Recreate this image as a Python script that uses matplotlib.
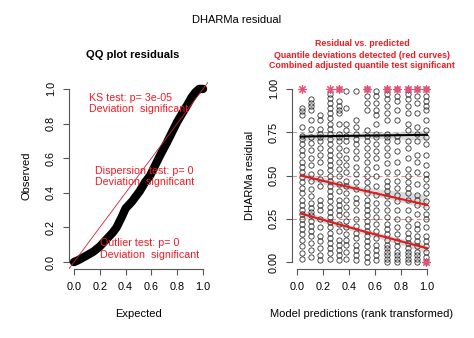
import numpy as np
import matplotlib
matplotlib.use("Agg")
import matplotlib.pyplot as plt

plt.rcParams["font.family"] = ["Liberation Sans", "DejaVu Sans"]

W, H = 474, 338

# ---------------------------------------------------------------------------
# QQ plot (expected vs observed uniform residual quantiles)
QQ_EXPECTED = [0.00, 0.03, 0.08, 0.15, 0.20, 0.25, 0.30, 0.33, 0.37, 0.40,
               0.45, 0.51, 0.55, 0.59, 0.63, 0.67, 0.72, 0.76, 0.80, 0.84,
               0.88, 0.91, 0.94, 0.97, 1.00]
QQ_OBSERVED = [0.00, 0.01, 0.03, 0.06, 0.09, 0.13, 0.17, 0.20, 0.26, 0.31,
               0.35, 0.41, 0.46, 0.50, 0.56, 0.62, 0.69, 0.75, 0.81, 0.86,
               0.91, 0.95, 0.98, 1.00, 1.00]

KS_TEXT = "KS test: p= 3e-05\nDeviation  significant"
DISP_TEXT = "Dispersion test: p= 0\nDeviation  significant"
OUTL_TEXT = "Outlier test: p= 0\nDeviation  significant"

# ---------------------------------------------------------------------------
# residual vs predicted (rank transformed predictions, tied ranks -> columns)
PRED_RANKS = [0.04, 0.11, 0.18, 0.25, 0.32, 0.38, 0.45, 0.54, 0.61, 0.69,
              0.77, 0.85, 0.92, 0.99]
RESID_COLS = [
    [0.02, 0.05, 0.09, 0.13, 0.16, 0.19, 0.22, 0.25, 0.28, 0.30, 0.33, 0.36,
     0.40, 0.43, 0.46, 0.49, 0.52, 0.55, 0.58, 0.62, 0.65, 0.68, 0.71, 0.73,
     0.78, 0.85, 0.87, 0.89],
    [0.03, 0.07, 0.11, 0.15, 0.18, 0.21, 0.24, 0.27, 0.29, 0.31, 0.34, 0.38,
     0.42, 0.47, 0.51, 0.56, 0.60, 0.65, 0.69, 0.72, 0.77, 0.82, 0.88, 0.90,
     0.92, 0.94],
    [0.01, 0.04, 0.08, 0.12, 0.15, 0.20, 0.25, 0.30, 0.33, 0.36, 0.44, 0.48,
     0.52, 0.58, 0.62, 0.66, 0.70, 0.72, 0.74, 0.77, 0.82, 0.85],
    [0.02, 0.05, 0.08, 0.11, 0.14, 0.17, 0.20, 0.23, 0.26, 0.29, 0.32, 0.35,
     0.38, 0.41, 0.44, 0.47, 0.50, 0.53, 0.56, 0.59, 0.62, 0.65, 0.68, 0.71,
     0.74, 0.77, 0.80, 0.83, 0.86, 0.89, 0.92, 0.95, 0.97],
    [0.01, 0.04, 0.07, 0.10, 0.13, 0.18, 0.22, 0.27, 0.30, 0.33, 0.36, 0.41,
     0.45, 0.50, 0.54, 0.58, 0.62, 0.66, 0.70, 0.72, 0.74, 0.80, 0.86, 0.88,
     0.90, 0.93, 1.00],
    [0.02, 0.06, 0.10, 0.13, 0.16, 0.20, 0.24, 0.28, 0.32, 0.36, 0.40, 0.44,
     0.47, 0.52, 0.56, 0.60, 0.65, 0.70, 0.73, 0.76, 0.80, 0.89, 0.99],
    [0.01, 0.04, 0.07, 0.10, 0.14, 0.17, 0.21, 0.25, 0.30, 0.34, 0.37, 0.42,
     0.46, 0.51, 0.55, 0.60, 0.64, 0.68, 0.71, 0.74, 0.78, 0.82, 0.99],
    [0.00, 0.03, 0.06, 0.09, 0.12, 0.15, 0.18, 0.21, 0.24, 0.27, 0.30, 0.33,
     0.36, 0.40, 0.43, 0.46, 0.50, 0.54, 0.58, 0.62, 0.66, 0.70, 0.73, 0.76,
     0.88, 0.92, 0.96, 1.00],
    [0.01, 0.04, 0.07, 0.10, 0.14, 0.18, 0.22, 0.26, 0.30, 0.34, 0.39, 0.44,
     0.50, 0.55, 0.60, 0.64, 0.68, 0.72, 0.74, 0.80, 0.85, 0.88, 0.92, 0.96,
     0.99],
    [0.00, 0.02, 0.04, 0.06, 0.08, 0.10, 0.13, 0.16, 0.19, 0.22, 0.26, 0.30,
     0.34, 0.38, 0.41, 0.44, 0.47, 0.52, 0.57, 0.62, 0.66, 0.70, 0.72, 0.74,
     0.82, 0.86, 0.90, 0.94, 0.97, 1.00],
    [0.00, 0.02, 0.04, 0.06, 0.09, 0.12, 0.16, 0.20, 0.25, 0.30, 0.35, 0.39,
     0.43, 0.47, 0.52, 0.58, 0.64, 0.70, 0.73, 0.82, 0.88, 0.93, 0.96, 1.00],
    [0.00, 0.02, 0.04, 0.06, 0.08, 0.11, 0.14, 0.17, 0.21, 0.25, 0.30, 0.36,
     0.40, 0.43, 0.46, 0.50, 0.54, 0.60, 0.66, 0.70, 0.76, 0.80, 0.86, 0.90,
     0.94, 0.97, 1.00],
    [0.00, 0.02, 0.04, 0.06, 0.09, 0.12, 0.15, 0.19, 0.22, 0.28, 0.33, 0.36,
     0.39, 0.45, 0.52, 0.58, 0.62, 0.70, 0.74, 0.78, 0.86, 0.92, 0.96, 1.00],
    [0.00, 0.03, 0.06, 0.09, 0.12, 0.15, 0.20, 0.25, 0.28, 0.32, 0.35, 0.40,
     0.44, 0.48, 0.51, 0.56, 0.62, 0.68, 0.72, 0.76, 0.82, 0.88, 0.90, 0.93,
     0.96, 1.00],
]
# simulation outliers (drawn as red asterisks)
OUTLIER_X = [0.04, 0.25, 0.32, 0.54, 0.69, 0.77, 0.85, 0.92, 0.99, 0.99]
OUTLIER_Y = [1.00, 1.00, 1.00, 1.00, 1.00, 1.00, 1.00, 1.00, 1.00, 0.00]

# quantile regression fits with confidence bands
QFIT_X = [0.03, 0.50, 1.00]
Q25_FIT = [0.28, 0.18, 0.08]
Q25_LO = [0.26, 0.165, 0.055]
Q25_HI = [0.30, 0.195, 0.10]
Q50_FIT = [0.50, 0.415, 0.33]
Q50_LO = [0.48, 0.40, 0.31]
Q50_HI = [0.52, 0.435, 0.39]
Q75_FIT = [0.725, 0.73, 0.735]
Q75_LO = [0.70, 0.715, 0.705]
Q75_HI = [0.745, 0.745, 0.76]

RIGHT_TITLE = ["Residual vs. predicted",
               "Quantile deviations detected (red curves)",
               "Combined adjusted quantile test significant"]

AXCOL = "#555555"


def px(x, y):
    return x / W, 1 - y / H


def r_axes(ax, yticks, yfmt):
    ax.set_xlim(-0.04, 1.04)
    ax.set_ylim(-0.04, 1.04)
    for s in ("top", "right"):
        ax.spines[s].set_visible(False)
    for s in ("left", "bottom"):
        ax.spines[s].set_color(AXCOL)
        ax.spines[s].set_linewidth(0.8)
        ax.spines[s].set_bounds(0, 1)
    ax.set_xticks(np.arange(0, 1.01, 0.2))
    ax.set_xticklabels([f"{v:.1f}" for v in np.arange(0, 1.01, 0.2)])
    ax.set_yticks(yticks)
    ax.set_yticklabels([yfmt.format(v) for v in yticks], rotation=90,
                       va="center")
    ax.tick_params(length=4.3, width=0.8, color=AXCOL, labelsize=7.8,
                   pad=5)
    ax.patch.set_visible(False)


fig = plt.figure(figsize=(W / 100, H / 100), dpi=100)
ax1 = fig.add_axes([68.8 / W, 69 / H, 139.4 / W, 187 / H])
ax2 = fig.add_axes([291.8 / W, 69 / H, 140.4 / W, 187 / H])

# --- left: QQ plot ---
ax1.plot([-0.04, 1.04], [-0.04, 1.04], color="#d0213a", lw=0.6, zorder=3)
ax1.plot(QQ_EXPECTED, QQ_OBSERVED, color="black", lw=6,
         solid_capstyle="round", solid_joinstyle="round", zorder=2)
r_axes(ax1, np.arange(0, 1.01, 0.2), "{:.1f}")
ax1.set_xlabel("Expected", fontsize=8, labelpad=12)
ax1.set_ylabel("Observed", fontsize=8, labelpad=10)
fig.text(*px(133, 55), "QQ plot residuals", ha="center", va="center",
         fontsize=8, fontweight="bold")
for (x, y), txt in zip([(89, 103.5), (95, 176.5), (100, 249)],
                       [KS_TEXT, DISP_TEXT, OUTL_TEXT]):
    fig.text(*px(x, y), txt, ha="left", va="center", color="#ee1c25",
             fontsize=7.7, linespacing=1.2, zorder=5)

# --- right: residual vs predicted ---
for h, c in zip([0.25, 0.5, 0.75], ["#e88", "#e88", "#aaa"]):
    ax2.axhline(h, color=c, lw=0.8, ls=(0, (4, 3)), zorder=1)
for lo, hi in [(Q25_LO, Q25_HI), (Q50_LO, Q50_HI), (Q75_LO, Q75_HI)]:
    ax2.fill_between(QFIT_X, lo, hi, color="#cccccc", alpha=0.7, lw=0,
                     zorder=1)
for xv, col in zip(PRED_RANKS, RESID_COLS):
    ax2.plot([xv] * len(col), col, "o", mfc="none", mec="#222222", ms=3.8,
             mew=0.55, zorder=2)
ax2.plot(QFIT_X, Q75_FIT, color="black", lw=1.5, zorder=3)
ax2.plot(QFIT_X, Q50_FIT, color="#e31a1c", lw=1.5, zorder=3)
ax2.plot(QFIT_X, Q25_FIT, color="#e31a1c", lw=1.5, zorder=3)
ax2.plot(OUTLIER_X, OUTLIER_Y, ls="none", marker=(8, 2, 0), ms=6,
         mec="#e8507a", mew=0.8, zorder=4)
r_axes(ax2, [0, 0.25, 0.5, 0.75, 1.0], "{:.2f}")
ax2.set_xlabel("Model predictions (rank transformed)", fontsize=8,
               labelpad=12)
ax2.set_ylabel("DHARMa residual", fontsize=8, labelpad=10)
for i, line in enumerate(RIGHT_TITLE):
    fig.text(*px(362, 44 + 11 * i), line, ha="center", va="center",
             fontsize=6.4, fontweight="bold", color="#ee1c25")

fig.text(*px(237, 20), "DHARMa residual", ha="center", va="center",
         fontsize=8)

fig.savefig("out.png", dpi=100)
